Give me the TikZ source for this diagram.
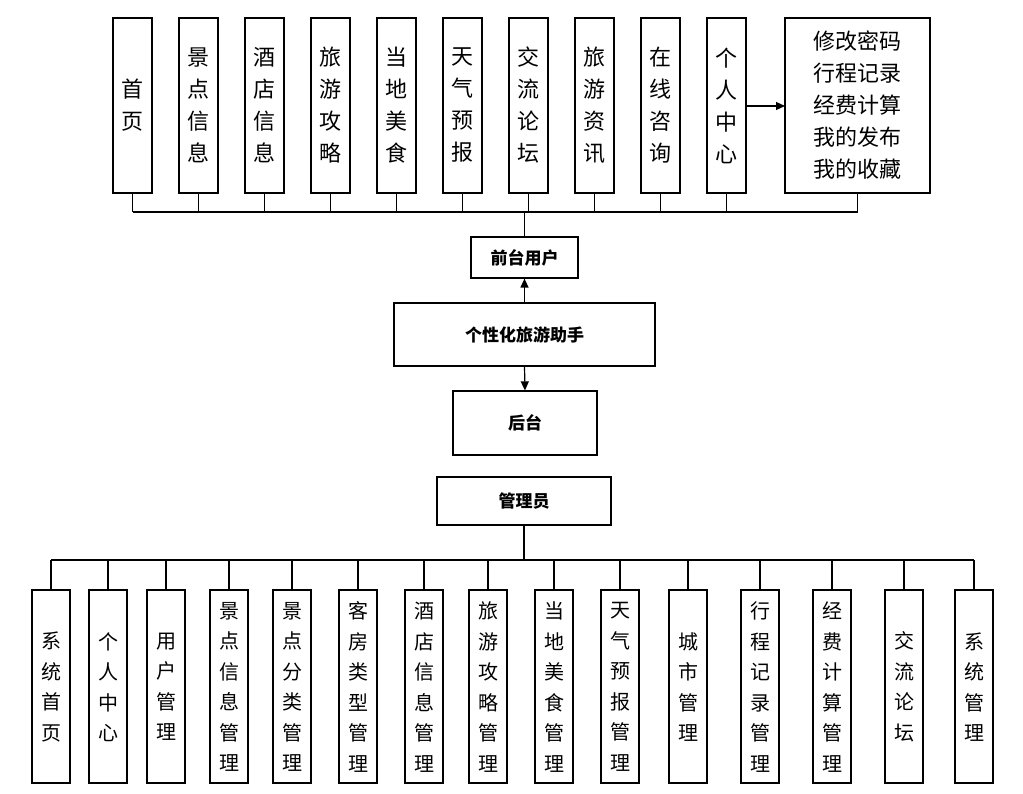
\documentclass[tikz,border=0pt]{standalone}
\usepackage{fontspec}
\newfontfamily\cjk{Noto Sans CJK SC}
\usetikzlibrary{arrows.meta}
\begin{document}
\begin{tikzpicture}[x=1pt,y=-1pt,
  box/.style={draw,line width=1.2pt,inner sep=0pt},
  vtop/.style={font=\cjk\fontsize{22}{32}\selectfont,align=center},
  vbot/.style={font=\cjk\fontsize{20}{30.5}\selectfont,align=center},
  mid/.style={font=\cjk\bfseries\fontsize{17}{20}\selectfont},
  ln/.style={line width=1.2pt},
  arr/.style={line width=1.2pt,-{Triangle[length=9pt,width=8pt]}}]
\useasboundingbox (0,0) rectangle (1023,794);
% top boxes
\foreach \n/\l/\t in {t1/113/首\\页, t2/179/景\\点\\信\\息, t3/245/酒\\店\\信\\息, t4/311/旅\\游\\攻\\略, t5/377/当\\地\\美\\食, t6/443/天\\气\\预\\报, t7/509/交\\流\\论\\坛, t8/575/旅\\游\\资\\讯, t9/641/在\\线\\咨\\询, t10/707/个\\人\\中\\心}{
  \draw[box] (\l,18) rectangle ++(39,175);
  \node[vtop] (\n) at (\l+19.5,105.5) {\t};
  \coordinate (\n b) at (\l+19.5,193);
  \draw[ln] (\n b) -- (\l+19.5,212);
}
\draw[box] (785,18) rectangle (930,193);
\node[vtop,align=left] (big) at (857.5,105.5) {修改密码\\行程记录\\经费计算\\我的发布\\我的收藏};
\coordinate (bigb) at (857.5,193);
\coordinate (bigl) at (785,106);
\coordinate (t10r) at (746,106);
\draw[ln] (bigb) -- (857.5,212);
\draw[arr] (t10r) -- (bigl);
\draw[ln] (132.5,212) -- (857.5,212);
% middle
\node[box,mid,minimum width=107pt,minimum height=41pt] (qt) at (524.5,257.5) {前台用户};
\node[box,mid,minimum width=261pt,minimum height=63pt] (zs) at (524.5,334.5) {个性化旅游助手};
\node[box,mid,minimum width=144pt,minimum height=64pt] (ht) at (525,423) {后台};
\node[box,mid,minimum width=174pt,minimum height=48pt] (gly) at (524,501) {管理员};
\draw[ln] (524.5,212) -- (qt.north);
\draw[arr] (zs.north) -- (qt.south);
\draw[arr] (zs.south) -- (ht.north);
\draw[ln] (gly.south) -- (524,560);
\draw[ln] (51,560) -- (974,560);
% bottom boxes
\foreach \n/\c/\t in {b1/51/系\\统\\首\\页, b2/108/个\\人\\中\\心, b3/166/用\\户\\管\\理, b4/229/景\\点\\信\\息\\管\\理, b5/292/景\\点\\分\\类\\管\\理, b6/358/客\\房\\类\\型\\管\\理, b7/424/酒\\店\\信\\息\\管\\理, b8/488/旅\\游\\攻\\略\\管\\理, b9/554/当\\地\\美\\食\\管\\理, b10/620/天\\气\\预\\报\\管\\理, b11/688/城\\市\\管\\理, b12/760/行\\程\\记\\录\\管\\理, b13/832/经\\费\\计\\算\\管\\理, b14/904/交\\流\\论\\坛, b15/974/系\\统\\管\\理}{
  \draw[box] (\c-19,590) rectangle ++(38,193);
  \node[vbot] (\n) at (\c,687) {\t};
  \coordinate (\n t) at (\c,590);
  \draw[ln] (\c,560) -- (\n t);
}
\end{tikzpicture}
\end{document}
